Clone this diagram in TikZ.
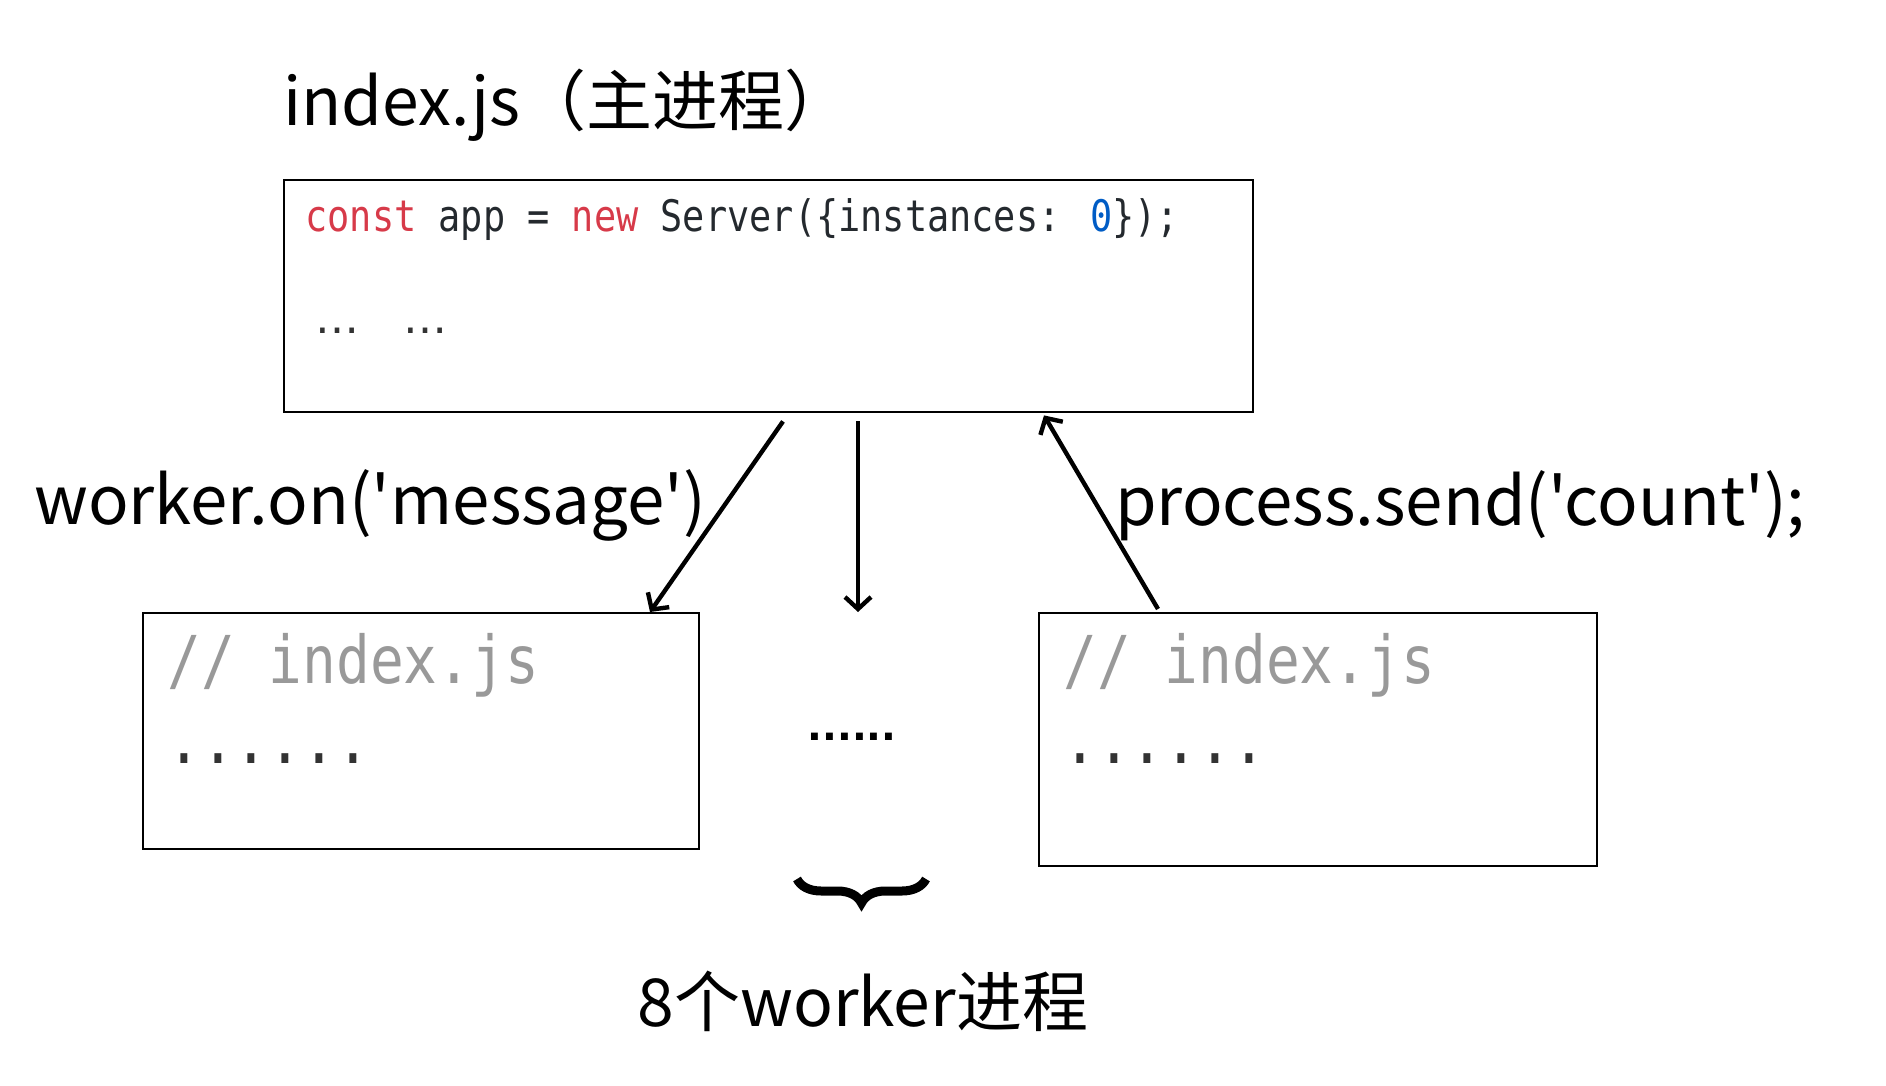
\documentclass[tikz,border=0pt]{standalone}
\usepackage{fontspec}
\setmainfont{Noto Sans CJK SC}[Ligatures=TeXOff]
\newfontfamily\codefont{DejaVu Sans Mono}[FakeStretch=0.85]
\newfontfamily\dotfont{DejaVu Sans}
\usetikzlibrary{arrows.meta,positioning,calc,decorations.pathreplacing}
\definecolor{kwred}{HTML}{D73A49}
\definecolor{numblue}{HTML}{005CC5}
\definecolor{codeink}{HTML}{24292E}
\definecolor{cmtgray}{HTML}{999999}
\definecolor{dotink}{HTML}{333333}

\begin{document}
\begin{tikzpicture}[x=0.5pt,y=-0.5pt,
  box/.style={draw,line width=1.2pt,inner sep=0pt,anchor=north west},
  txt/.style={inner sep=0pt,font=\fontsize{33}{40}\selectfont},
  lbl/.style={inner sep=0pt,font=\fontsize{33.6}{40}\selectfont},
  code/.style={inner sep=0pt,anchor=base west,font=\codefont\fontsize{21.7}{26}\selectfont,text=codeink},
  wcode/.style={inner sep=0pt,anchor=base west,font=\codefont\fontsize{33}{40}\selectfont},
  conn/.style={line width=2.2pt,-{Straight Barb[length=6pt,width=13pt]}}]
\useasboundingbox (0,0) rectangle (1886,1086);
% main process
\node[txt,anchor=west] (title) at (283,105) {index.js（主进程）};
\node[box,minimum width=484.5pt,minimum height=116pt] (master) at (283,179) {};
\node[code] (line1) at ([shift={(22,52)}]master.north west)
  {\textcolor{kwred}{const} app = \textcolor{kwred}{new} Server(\{instances: \textcolor{numblue}{0}\});};
\node[inner sep=0pt,anchor=base west,font=\dotfont\fontsize{22}{24}\selectfont,text=dotink]
  (line2) at ([shift={(32,154)}]master.north west) {…\hspace{22pt}…};
% workers
\node[box,minimum width=278pt,minimum height=118pt] (w1) at (142,612) {};
\node[box,minimum width=279pt,minimum height=126.5pt] (w8) at (1038,612) {};
\node[wcode,text=cmtgray] (w1cmt) at ([shift={(25,71)}]w1.north west) {// index.js};
\node[wcode,text=dotink] (w1dots) at ([shift={(25,151)}]w1.north west) {......};
\node[wcode,text=cmtgray] (w8cmt) at ([shift={(25,71)}]w8.north west) {// index.js};
\node[wcode,text=dotink] (w8dots) at ([shift={(25,151)}]w8.north west) {......};
\node[inner sep=0pt,anchor=base,font=\dotfont\bfseries\fontsize{19.5}{22}\selectfont] (more) at (852,740) {......};
% messages
\coordinate (gap) at (858,612);
\draw[conn] ([shift={(500,8)}]master.south west) -- node[lbl,pos=0.44,left=8pt] (onmsg) {worker.on('message')} ([shift={(508,0)}]w1.north west);
\draw[conn] ([shift={(575,8)}]master.south west) -- (gap);
\draw[conn] ([shift={(120,-3)}]w8.north west) -- node[lbl,pos=0.536,right=8pt] (send) {process.send('count');} ([shift={(761,2)}]master.south west);
% brace
\coordinate (braceR) at (926,879);
\coordinate (braceL) at (797,879);
\draw[line width=4.5pt,decorate,decoration={brace,amplitude=12pt}] (braceR) -- (braceL);
\node[txt] (count) at (863,1001) {8个worker进程};
\end{tikzpicture}
\end{document}
